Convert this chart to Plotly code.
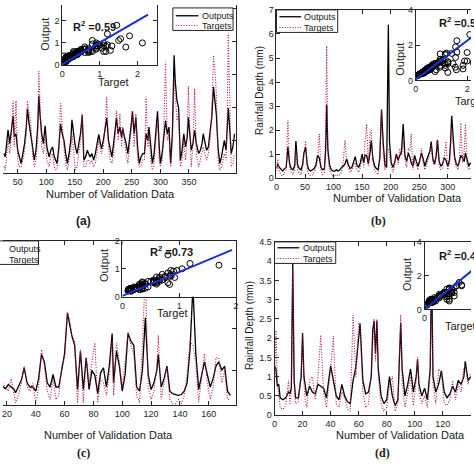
import plotly.graph_objects as go

# ---------------- data ----------------
# Panel (a)
x_a = [26,28,30,33,36,39,42,44,47,50,
       53,56,59,62,65,67,70,73,76,79,
       82,85,87,89,92,95,98,101,105,108,
       111,114,117,119,122,125,128,131,134,137,
       140,143,145,148,151,154,157,160,163,166,
       169,172,174,177,180,183,186,189,192,195,
       197,200,203,206,209,212,215,218,221,223,
       226,229,232,234,237,240,243,246,249,251,
       254,257,260,263,266,269,272,275,278,280,
       283,286,289,292,295,298,300,303,306,309,
       312,315,318,321,324,326,329,332,335,338,
       341,344,347,349,352,354,357,360,363,367,
       370,373,375,378,381,384,387,390,393,396,
       398,401,404,407,410,412,415,417,419,422,
       424,427,430]
out_a = [.30,.25,.40,.66,.45,.70,.87,.55,.60,.35,
         .25,.15,.30,.45,.70,.98,.75,.60,.40,.20,
         .35,.70,1.18,.90,.60,.45,.72,.40,.25,.35,
         .40,.25,.20,.15,.40,.75,.60,.50,.30,.15,
         .30,.50,.81,.55,.40,.30,.45,.60,.88,.20,
         .25,.35,.30,.25,.30,.20,.30,.45,.59,.45,
         .37,.50,.65,.84,.50,.35,.25,.45,.70,.84,
         .60,.70,.55,.68,.55,.45,.30,.50,.75,.94,
         .60,.85,.40,.15,.25,.30,.30,.60,.50,.70,
         .40,.15,.30,.60,.94,.40,.15,.30,.55,.80,
         .60,.70,.15,.60,1.79,1.40,1.10,.99,.20,.35,
         .60,.40,.55,.85,.55,.35,.45,.65,.45,.30,
         .35,.45,.60,.45,.35,.40,.60,.85,1.31,1.10,
         .90,.40,.15,.25,.40,.50,.35,.60,.99,.60,
         .30,.40,.60]
tgt_a = [.10,.05,.20,.50,.30,.60,1.10,.40,1.10,.20,
         .10,.10,.20,.35,.60,1.10,.90,.75,.30,.10,
         .20,.50,1.55,1.00,.40,.30,.60,.20,.10,.25,
         .30,.10,.05,.08,.30,1.06,.70,.40,.15,.05,
         .20,.35,.60,.30,.05,.10,.30,.50,.90,.10,
         .10,.20,.20,.15,.20,.10,.15,.30,.50,.35,
         .30,.40,.70,1.16,.40,.20,.15,.30,.60,.95,
         .50,.90,.40,.70,.45,.30,.15,.40,.70,.95,
         .40,.90,.20,.10,.10,.20,.20,1.16,.40,.60,
         .20,.05,.15,.50,.80,.20,.10,.20,.70,1.69,
         .50,.60,.10,.50,1.45,1.20,.80,.90,.10,.20,
         .50,.20,.60,1.32,.40,.10,.40,1.28,.30,.10,
         .20,.30,.40,.30,.20,.30,.50,.90,1.79,1.50,
         1.20,.20,.05,.10,.20,.30,.20,.80,2.13,.50,
         .10,.15,.30]
fit_a_x = [0, 2.28]
fit_a_y = [0.02, 2.27]

# Panel (b)
x_b = [0,2,5,8,11,14,17,20,23,26,
       29,32,34,37,40,43,46,48,51,54,
       57,60,63,66,69,72,75,78,81,84,
       86,88,90,93,96,99,102,105,108,111,
       114,117,120,123,126,129,132,135,138,141,
       144,147,150,153,155,158,161,164,166,169,
       172,175,178,181,184,187,190,193,196,198,
       201,204,207,210,213,216,219,222,225,228,
       231,234,236,239,242,245,248,251,254,257,
       260,263,266,269,271,274,277,280,282,285,
       288,291,294,297,300,303,305,307,309,312,
       315,318,321,323,326,329,331,334,337,340]
out_b = [.40,.60,.45,.35,.30,.40,.45,1.30,.60,.40,
         .35,.55,1.55,.55,.40,.35,.60,1.05,1.30,.55,
         .35,.30,.35,.40,.55,.95,.85,.45,.35,.40,
         1.10,3.06,1.20,.55,.35,.30,.30,.35,.30,.35,
         .45,.50,.60,.80,.55,.40,.45,.65,.90,.55,
         .45,.65,1.00,.65,.95,.95,.60,1.10,1.58,.80,
         .50,.40,.35,.85,2.86,1.45,.55,.45,6.38,1.50,
         .65,.45,.65,1.00,.75,.95,1.10,2.25,.95,.70,
         1.05,.85,.65,.50,.95,.70,.50,.75,1.05,.80,
         .50,.75,.95,1.15,1.53,.80,.60,.95,1.60,.70,
         .50,.60,.85,.75,.50,.75,1.50,2.60,1.90,.90,
         .60,.50,.75,.95,.85,.70,1.05,.70,.50,.65]
tgt_b = [.30,.80,.30,.15,.10,.20,.35,2.40,.45,.25,
         .15,.35,1.20,.35,.20,.15,.50,.95,1.55,.35,
         .15,.10,.15,.25,.45,.75,1.84,.30,.15,.25,
         2.00,5.50,.95,.35,.15,.10,.10,.15,.10,.15,
         .25,.75,1.58,.65,.45,.25,.35,.55,.65,.35,
         .25,.45,.85,.45,1.45,2.25,.50,1.90,2.00,.70,
         .35,.25,.15,.75,2.80,1.15,.35,1.25,1.20,.95,
         .45,.25,.55,1.05,.55,1.25,.95,1.60,.75,.45,
         1.25,1.15,1.84,.35,.75,.55,.35,.65,1.25,.65,
         .35,.55,.85,1.05,1.40,.65,.55,1.15,1.60,.55,
         .35,.45,.95,1.54,.35,.55,1.15,2.10,1.55,.75,
         .45,.35,.95,2.30,.65,1.15,2.25,.55,.35,.45]
fit_b_x = [0, 4]
fit_b_y = [0.05, 4.45]

# Panel (c)
x_c = [17,19,21,23,25,26,28,30,32,34,
       36,38,40,42,44,46,48,50,52,54,
       56,58,60,62,64,65,67,69,71,73,
       75,77,79,81,83,85,87,89,91,93,
       94,96,98,100,102,104,106,108,110,112,
       114,116,118,120,122,124,125,127,129,131,
       133,135,137,139,141,143,145,147,149,151,
       153,155,157,159,161,163,165,167,169,171,
       173,175]
out_c = [.31,.28,.33,.30,.27,.23,.30,.38,.53,.35,
         .30,.30,.25,.40,.69,.60,.35,.30,.45,.30,
         .30,.53,.70,1.19,1.00,.92,.80,.27,.73,.27,
         .65,.27,.50,.44,.22,.47,.53,.30,.55,.94,
         .35,.73,.55,.25,.45,.94,.85,.80,.30,.25,
         .50,1.13,.45,.27,.35,.50,.69,.30,.40,.55,
         .25,.22,.21,.20,.21,.25,.35,.75,1.50,.71,
         .27,.45,.60,.45,.30,.40,.55,.60,.50,.55,
         .25,.20]
tgt_c = [.35,.30,.25,.40,.20,.11,.20,.35,.55,.30,
         .25,.35,.11,.30,.75,.55,.25,.15,.40,.15,
         .20,.55,.65,1.19,1.05,.90,.85,.11,.75,.11,
         .65,.35,.60,.83,.11,.40,.35,.20,.45,.85,
         .20,.83,.60,.30,.60,.96,.80,.70,.20,.11,
         .80,1.70,.30,.15,.25,.55,.92,.15,.35,.55,
         .15,.10,.10,.15,.10,.20,.45,.86,.80,.60,
         .12,.40,.70,.35,.15,.30,.65,.65,.35,.50,
         .15,.15]
fit_c_x = [0, 1.93]
fit_c_y = [0.03, 1.68]

# Panel (d)
x_d = [0,1,2,3,4,6,8,10,11,12,
       13,14,15,17,19,20,21,22,23,25,
       27,29,31,33,35,37,39,40,42,44,
       46,48,50,52,54,56,58,60,61,63,
       65,67,69,70,71,72,73,74,76,78,
       80,82,84,86,88,89,90,91,93,95,
       97,99,101,102,103,105,107,109,111,112,
       113,115,117,119,121,123,125,127,129,131,
       133,135,136,138,140]
out_d = [1.27,1.20,.75,.80,.45,.40,.45,.60,.55,.70,
         3.95,.90,.45,.45,1.00,2.13,1.00,.70,.50,.75,
         .60,.55,.80,.75,.70,.45,1.00,1.28,.90,.50,
         .40,.80,.50,.35,.30,.90,1.25,2.00,2.38,.90,
         .55,.60,1.00,2.20,2.45,1.60,2.45,1.20,.50,.30,
         .40,1.00,.50,.25,.40,1.40,2.40,1.20,.50,.80,
         1.20,.60,1.00,1.45,.80,.50,.70,.40,1.20,3.90,
         1.00,.60,.80,1.15,.60,.45,.55,.75,.60,.90,
         .80,1.00,1.40,.90,1.00]
tgt_d = [1.00,2.20,.90,.60,.20,.15,.25,.90,.30,.60,
         3.80,.80,.30,.35,1.10,2.10,.80,.40,.20,.90,
         1.00,.40,1.00,2.08,.60,.20,.80,1.20,2.05,.30,
         .20,.60,.45,.15,.10,2.60,1.00,2.40,2.30,.60,
         .20,.30,1.10,2.00,2.50,1.40,2.50,1.00,.30,.10,
         .20,.80,1.00,.10,.30,1.50,2.60,.90,.20,.60,
         1.00,.25,.90,1.50,.60,.30,.50,.20,1.10,3.50,
         .80,.30,1.20,1.10,.30,.25,.40,.90,.40,.80,
         .60,1.20,1.30,.80,1.10]
fit_d_x = [0, 4]
fit_d_y = [0.0, 4.8]

r2_text = ["0.59", "0.56", "0.73", "0.47"]

for xs, o, t in [(x_a, out_a, tgt_a), (x_b, out_b, tgt_b), (x_c, out_c, tgt_c), (x_d, out_d, tgt_d)]:
    assert len(xs) == len(o) == len(t), (len(xs), len(o), len(t))

# ---------------- styling / layout helpers ----------------
W = H = 474
RED = "#b01a52"
BLUE = "#1c2ed6"
AX = "#262626"
FONT = "Arial"
DOT = "1px,1.6px"

def PX(x):
    return x / W

def PY(y):
    return 1 - y / H

fig = go.Figure()

def add_panel(n_main, n_ins, xs, o, t, fx, fy):
    xa = "x" if n_main == 1 else f"x{n_main}"
    ya = "y" if n_main == 1 else f"y{n_main}"
    fig.add_trace(go.Scatter(x=xs, y=o, mode="lines", line=dict(color="black", width=1.3),
                             xaxis=xa, yaxis=ya, showlegend=False))
    fig.add_trace(go.Scatter(x=xs, y=t, mode="lines", line=dict(color=RED, width=1.1, dash=DOT),
                             xaxis=xa, yaxis=ya, showlegend=False))
    xi, yi = f"x{n_ins}", f"y{n_ins}"
    fig.add_trace(go.Scatter(x=t, y=o, mode="markers",
                             marker=dict(symbol="circle-open", size=6, color="black", line=dict(width=1)),
                             xaxis=xi, yaxis=yi, showlegend=False))
    fig.add_trace(go.Scatter(x=fx, y=fy, mode="lines", line=dict(color=BLUE, width=2),
                             xaxis=xi, yaxis=yi, showlegend=False))

add_panel(1, 2, x_a, out_a, tgt_a, fit_a_x, fit_a_y)
add_panel(3, 4, x_b, out_b, tgt_b, fit_b_x, fit_b_y)
add_panel(5, 6, x_c, out_c, tgt_c, fit_c_x, fit_c_y)
add_panel(7, 8, x_d, out_d, tgt_d, fit_d_x, fit_d_y)

base = dict(showgrid=False, zeroline=False, showline=True, linecolor=AX, linewidth=1,
            ticks="inside", ticklen=4, tickcolor=AX, tickwidth=1,
            tickfont=dict(size=9, color=AX, family=FONT), tickmode="array")

def ax(**kw):
    d = dict(base)
    d.update(kw)
    return d

lay = {}
# (a) main
lay["xaxis"] = ax(domain=[0, PX(236)], range=[24.2, 432.5], tickvals=[50, 100, 150, 200, 250, 300, 350],
                  anchor="y", mirror=False)
lay["yaxis"] = ax(domain=[PY(172), 1], range=[0, 2.55], tickvals=[0.5, 1, 1.5, 2, 2.5], side="right",
                  showticklabels=False, anchor="x")
# (a) inset
lay["xaxis2"] = ax(domain=[PX(60), PX(156)], range=[0, 2.52], tickvals=[0, 1, 2], anchor="y2", mirror=False)
lay["yaxis2"] = ax(domain=[PY(61), 1], range=[0, 2.71], tickvals=[0, 1, 2], anchor="x2", mirror="ticks")
# (b) main
lay["xaxis3"] = ax(domain=[PX(277), 1], range=[0, 340.8], tickvals=[0, 50, 100, 150, 200, 250, 300],
                   anchor="y3", mirror="ticks")
lay["yaxis3"] = ax(domain=[PY(177), PY(5)], range=[0, 7], tickvals=list(range(8)), anchor="x3", mirror=False)
# (b) inset
lay["xaxis4"] = ax(domain=[PX(418), 1], range=[0, 2.15], tickvals=[0, 2], anchor="y4", mirror="ticks")
lay["yaxis4"] = ax(domain=[PY(77), PY(5)], range=[0, 4], tickvals=[0, 2, 4], anchor="x4", mirror=False)
# (c) main
lay["xaxis5"] = ax(domain=[0, PX(236)], range=[17.3, 178.9], tickvals=[20, 40, 60, 80, 100, 120, 140, 160],
                   anchor="y5", mirror="ticks")
lay["yaxis5"] = ax(domain=[PY(409), PY(241)], range=[0.08, 2.05], tickvals=[0.5, 1, 1.5, 2], side="right",
                   showticklabels=False, anchor="x5")
# (c) inset
lay["xaxis6"] = ax(domain=[PX(121), PX(236)], range=[0, 2], tickvals=[0, 1, 2], anchor="y6", mirror="ticks")
lay["yaxis6"] = ax(domain=[PY(298), PY(241)], range=[0, 2], tickvals=[0, 1, 2], anchor="x6", mirror="ticks")
# (d) main
lay["xaxis7"] = ax(domain=[PX(275), 1], range=[0, 140.1], tickvals=[0, 20, 40, 60, 80, 100, 120],
                   anchor="y7", mirror="ticks")
lay["yaxis7"] = ax(domain=[PY(419), PY(242)], range=[0, 4.5],
                   tickvals=[0, 0.5, 1, 1.5, 2, 2.5, 3, 3.5, 4, 4.5],
                   ticktext=["0", "0.5", "1", "1.5", "2", "2.5", "3", "3.5", "4", "4.5"],
                   anchor="x7", mirror=False)
# (d) inset
lay["xaxis8"] = ax(domain=[PX(427), 1], range=[0, 1.88], tickvals=[0, 2], anchor="y8", mirror="ticks")
lay["yaxis8"] = ax(domain=[PY(311), PY(242)], range=[0, 4], tickvals=[0, 2, 4], anchor="x8", mirror=False)

annotations = []

def text(x, y, s, size=11, xanchor="center", angle=0, bold=False, family=FONT):
    if bold:
        s = "<b>" + s + "</b>"
    annotations.append(dict(x=PX(x), y=PY(y), xref="paper", yref="paper", text=s, showarrow=False,
                            xanchor=xanchor, yanchor="middle", textangle=angle,
                            font=dict(size=size, color="#1a1a1a", family=family)))

# axis titles
text(109, 193, "Number of Validation Data", 11)
text(400, 197, "Number of Validation Data", 11)
text(107, 439, "Number of Validation Data", 11)
text(403, 439, "Number of Validation Data", 11)
text(259, 87, "Rainfall Depth (mm)", 10, angle=-90)
text(249, 327, "Rainfall Depth (mm)", 10, angle=-90)
# inset titles
text(43, 30, "Output", 11, angle=-90)
text(112, 79, "Target", 11)
text(402, 55, "Output", 11, angle=-90)
text(473, 98, "Target", 11)
text(103, 266, "Output", 11, angle=-90)
text(172, 315, "Target", 11)
text(409, 275, "Output", 11, angle=-90)
text(463, 328, "Target", 11)
# R^2
text(69, 21, "R<sup>2</sup> =" + r2_text[0], 11, xanchor="left", bold=True)
text(440, 17, "R<sup>2</sup> =" + r2_text[1], 11, xanchor="left", bold=True)
text(147, 251, "R<sup>2</sup> =" + r2_text[2], 11, xanchor="left", bold=True)
text(440, 255, "R<sup>2</sup> =" + r2_text[3], 11, xanchor="left", bold=True)
# panel letters
text(82, 221, "(a)", 12, bold=True)
text(380, 221, "(b)", 12, bold=True, family="Liberation Serif")
text(82, 458, "(c)", 12, bold=True, family="Liberation Serif")
text(384, 458, "(d)", 12, bold=True, family="Liberation Serif")

shapes = []

def legend(x0, y0, x1, y1, lx0, lx1, tx, ya, yb):
    shapes.append(dict(type="rect", xref="paper", yref="paper", x0=PX(x0), y0=PY(y0), x1=PX(x1), y1=PY(y1),
                       line=dict(color=AX, width=1), fillcolor="white", layer="above"))
    shapes.append(dict(type="line", xref="paper", yref="paper", x0=PX(lx0), x1=PX(lx1), y0=PY(ya), y1=PY(ya),
                       line=dict(color="black", width=1.3), layer="above"))
    shapes.append(dict(type="line", xref="paper", yref="paper", x0=PX(lx0), x1=PX(lx1), y0=PY(yb), y1=PY(yb),
                       line=dict(color=RED, width=1.1, dash=DOT), layer="above"))
    text(tx, ya, "Outputs", 9, xanchor="left")
    text(tx, yb, "Targets", 9, xanchor="left")

legend(172, 3, 233, 26, 175, 198, 200, 11, 21)
legend(277, 5, 339, 28, 280, 302, 303, 12, 23)
legend(-40, 241, 36, 265, -36, -13, 4, 249, 260)
legend(275, 242, 337, 264, 278, 300, 302, 248, 259)

fig.update_layout(width=W, height=H, margin=dict(l=0, r=0, t=0, b=0),
                  paper_bgcolor="white", plot_bgcolor="white", showlegend=False,
                  annotations=annotations, shapes=shapes, **lay)

fig.write_html("out.html")
